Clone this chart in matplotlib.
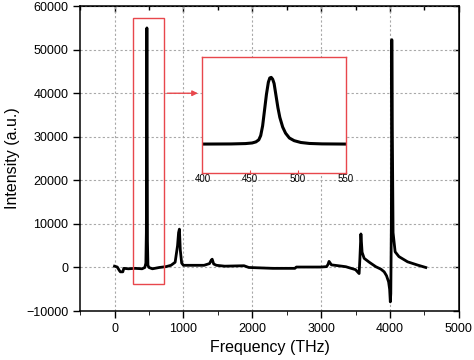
import numpy as np
import matplotlib.pyplot as plt
from matplotlib.patches import Rectangle
from matplotlib.ticker import MultipleLocator

plt.rcParams['font.family'] = ['Liberation Sans', 'DejaVu Sans']

# Main spectrum
freq = [0, 40, 70, 85, 120, 135, 200, 300, 400, 440, 455, 462, 467, 470, 473, 478, 485,
        500, 550, 650, 750, 820, 880, 915, 930, 942, 955, 975, 1000, 1100, 1300, 1380,
        1405, 1418, 1440, 1480, 1600, 1880, 1950, 2300, 2620, 2640, 3000, 3080, 3100,
        3115, 3150, 3300, 3360, 3500, 3552, 3563, 3578, 3595, 3625, 3700, 3795, 3870,
        3916, 3950, 3980, 3995, 4005, 4012, 4020, 4027, 4035, 4045, 4075, 4130, 4256,
        4400, 4520]
intensity = [300, 100, -700, -1000, -1000, -200, -300, -200, -300, 0, 1000, 8000, 40000,
             55000, 40000, 6000, 500, 0, -300, 0, 200, 500, 1200, 5000, 8000, 8800, 4000,
             1000, 500, 500, 500, 900, 1700, 1900, 800, 500, 300, 400, 0, -200, -200, 100,
             100, 200, 700, 1400, 600, 300, 170, -500, -1400, 2000, 7700, 3500, 2100, 1200,
             170, -400, -1000, -1900, -3300, -5000, -7900, -6000, 10000, 52300, 30000,
             8000, 3600, 2500, 1300, 560, 0]

# Zoomed view of the first peak
inset_freq = [400, 430, 445, 452, 456, 459, 461, 463, 465, 467, 469, 470.5, 472, 473.5,
              475, 477, 479, 481, 484, 487, 491, 496, 503, 512, 525, 550]
inset_intensity = [0, 100, 400, 900, 1800, 3500, 7000, 15000, 28000, 41000, 51000,
                   54500, 55000, 53500, 50000, 40000, 30000, 22000, 14000, 9000, 5000,
                   2800, 1300, 500, 150, 0]

red = '#e8474c'
grid_col = '#a8a8a8'

fig = plt.figure(figsize=(4.74, 3.6), dpi=100)
ax = fig.add_axes([0.169, 0.136, 0.799, 0.847])

ax.plot(freq, intensity, color='black', lw=2.0, zorder=3)

ax.set_xlim(-500, 5000)
ax.set_ylim(-10000, 60000)
ax.xaxis.set_major_locator(MultipleLocator(1000))
ax.xaxis.set_minor_locator(MultipleLocator(500))
ax.yaxis.set_major_locator(MultipleLocator(10000))
ax.grid(True, which='major', color=grid_col, linestyle=(0, (2, 2)), lw=0.8)

ax.tick_params(axis='both', which='major', labelsize=9, width=1.0)
ax.tick_params(axis='x', which='both', direction='out', top=False)
ax.tick_params(axis='x', which='major', length=5)
ax.tick_params(axis='x', which='minor', length=3)
ax.tick_params(axis='y', which='major', direction='out', length=5)
for s in ax.spines.values():
    s.set_linewidth(1.1)

# inward ticks on top and right
ax_top = ax.secondary_xaxis('top')
ax_top.xaxis.set_major_locator(MultipleLocator(1000))
ax_top.xaxis.set_minor_locator(MultipleLocator(500))
ax_top.tick_params(which='both', direction='in', labeltop=False, width=1.0)
ax_top.tick_params(which='major', length=4)
ax_top.tick_params(which='minor', length=3)
ax_right = ax.secondary_yaxis('right')
ax_right.yaxis.set_major_locator(MultipleLocator(10000))
ax_right.tick_params(direction='in', labelright=False, length=4, width=1.0)

ax.set_xlabel('Frequency (THz)', fontsize=11.5)
ax.set_ylabel('Intensity (a.u.)', fontsize=11.5)

# Highlight box and arrow
ax.add_patch(Rectangle((262, -3900), 452, 61100, fill=False, edgecolor=red, lw=1.0, zorder=4))
ax.annotate('', xy=(1250, 40000), xytext=(725, 40000),
            arrowprops=dict(arrowstyle='-|>', color=red, lw=1.0, mutation_scale=8), zorder=4)

# Inset
axin = fig.add_axes([0.427, 0.520, 0.3025, 0.3206])
axin.plot(inset_freq, inset_intensity, color='black', lw=2.2, solid_joinstyle='round')
axin.set_xlim(400, 550)
axin.set_ylim(-23700, 71500)
axin.set_xticks([400, 450, 500, 550])
axin.set_yticks([])
axin.tick_params(axis='x', direction='in', length=2, labelsize=7, pad=1, color=red)
for s in axin.spines.values():
    s.set_edgecolor(red)
    s.set_linewidth(1.0)

fig.savefig('out.png', dpi=100)
